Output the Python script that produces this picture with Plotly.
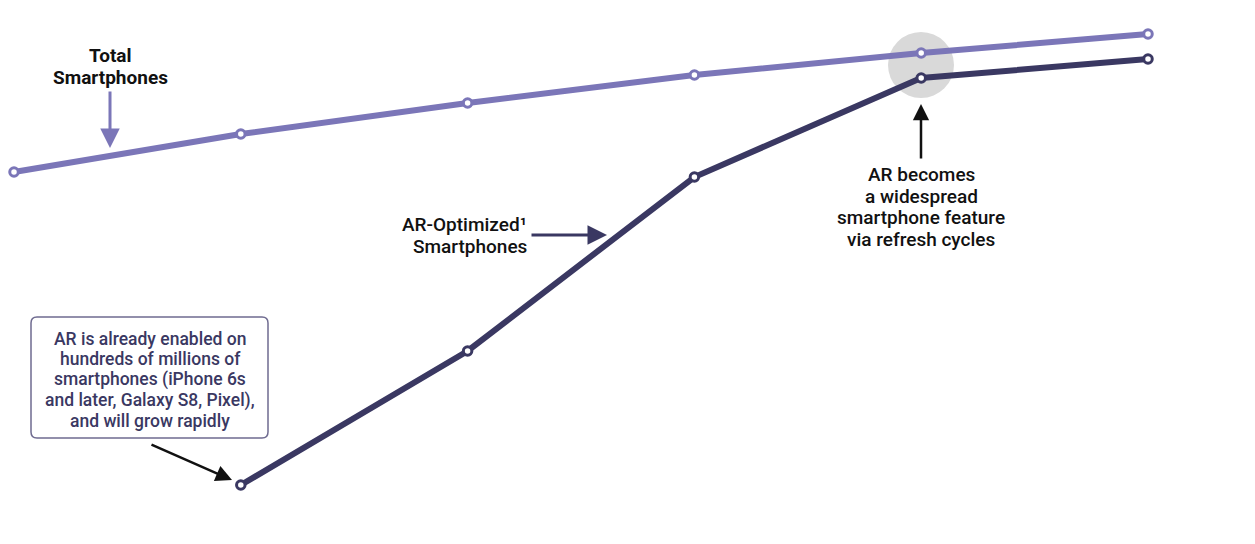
import plotly.graph_objects as go

# Data (index units)
periods = [0, 1, 2, 3, 4, 5]
total_smartphones = [3.72, 4.10, 4.41, 4.69, 4.91, 5.10]
ar_periods = [1, 2, 3, 4, 5]
ar_optimized = [0.59, 1.93, 3.67, 4.66, 4.85]

LIGHT = "#7b76b8"
DARK = "#3a3862"
FONT = "Roboto"

OFF = 8  # page offset of the figure
X0 = 14
SX = (1148 - X0) / 5


def X(px):
    return (px - X0) / SX


def Y(py):
    return (544 - py) / 100


fig = go.Figure()

# highlight circle
fig.add_shape(type="circle", xref="x", yref="y",
              x0=X(921 - 33), x1=X(921 + 33), y0=Y(65 + 33), y1=Y(65 - 33),
              fillcolor="#d9d9d9", line=dict(width=0), layer="below")

fig.add_trace(go.Scatter(x=periods, y=total_smartphones, mode="lines+markers",
                         line=dict(color=LIGHT, width=6), cliponaxis=False,
                         marker=dict(size=8.5, color="white", line=dict(color=LIGHT, width=3)),
                         hoverinfo="skip"))
fig.add_trace(go.Scatter(x=ar_periods, y=ar_optimized, mode="lines+markers",
                         line=dict(color=DARK, width=6), cliponaxis=False,
                         marker=dict(size=8.5, color="white", line=dict(color=DARK, width=3)),
                         hoverinfo="skip"))

# callout box (rounded)
bx0, bx1, by0, by1 = X(31), X(268), Y(438), Y(317)
rx, ry = 6 / SX, 0.06
path = (f"M {bx0+rx},{by1} L {bx1-rx},{by1} Q {bx1},{by1} {bx1},{by1-ry} "
        f"L {bx1},{by0+ry} Q {bx1},{by0} {bx1-rx},{by0} "
        f"L {bx0+rx},{by0} Q {bx0},{by0} {bx0},{by0+ry} "
        f"L {bx0},{by1-ry} Q {bx0},{by1} {bx0+rx},{by1} Z")
fig.add_shape(type="path", path=path, xref="x", yref="y",
              line=dict(color="#6f6b90", width=1.5), fillcolor="white")

annotations = []


def text_lines(lines, cx, ys, size, color, weight=500, xanchor="center"):
    for line, y in zip(lines, ys):
        annotations.append(dict(x=X(cx), y=Y(y), text=line, showarrow=False,
                                xanchor=xanchor, yanchor="middle", borderpad=0,
                                font=dict(family=FONT, size=size, color=color, weight=weight)))


text_lines(["Total", "Smartphones"], 110, [55, 77], 19, "#111111", weight=700)
text_lines(["AR-Optimized¹", "Smartphones"], 528, [224.5, 246], 19, "#111111", xanchor="right")
text_lines(["AR becomes", "a widespread", "smartphone feature", "via refresh cycles"],
           921, [174.5, 196, 217.5, 239], 19, "#111111")
text_lines(["AR is already enabled on", "hundreds of millions of", "smartphones (iPhone 6s",
            "and later, Galaxy S8, Pixel),", "and will grow rapidly"],
           150, [339, 359, 379.5, 400, 420.5], 17.5, DARK)

arrows = [
    dict(x=X(110), y=Y(148), ax=0, ay=-58, arrowcolor=LIGHT, arrowwidth=3),
    dict(x=X(607), y=Y(235), ax=-77, ay=0, arrowcolor=DARK, arrowwidth=3),
    dict(x=X(921), y=Y(104), ax=0, ay=56, arrowcolor="#111111", arrowwidth=2.5),
    dict(x=X(232), y=Y(480), ax=-82, ay=-36, arrowcolor="#111111", arrowwidth=2.5),
]
for a in arrows:
    a.update(text="", showarrow=True, arrowhead=2, arrowsize=1.3)
    annotations.append(a)

fig.update_layout(annotations=annotations)

fig.update_layout(
    width=1255, height=544,
    margin=dict(l=0, r=0, t=0, b=0),
    paper_bgcolor="white", plot_bgcolor="white",
    showlegend=False,
    xaxis=dict(range=[X(OFF), X(1255 + OFF)], visible=False, fixedrange=True),
    yaxis=dict(range=[Y(544 + OFF), Y(OFF)], visible=False, fixedrange=True),
)

fig.write_html("out.html")
